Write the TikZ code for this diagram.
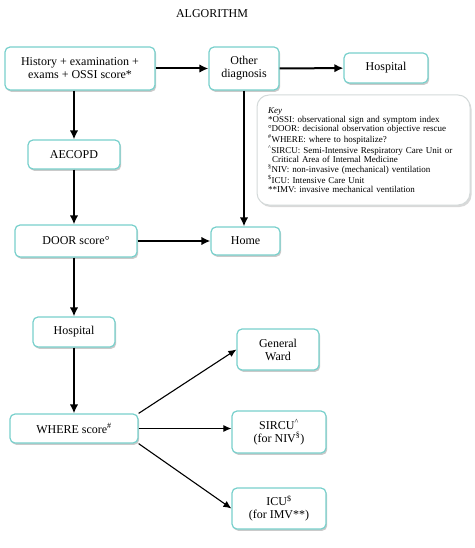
\documentclass[tikz,border=0pt]{standalone}
\usepackage{fontspec}
\setmainfont{Liberation Serif}
\usetikzlibrary{arrows.meta,shadows}

\definecolor{boxline}{RGB}{120,208,204}
\definecolor{keyline}{RGB}{212,218,218}

\tikzset{
    box/.style={draw=boxline, line width=1.2pt, fill=white, rounded corners=5pt,
        align=center, inner sep=2pt, font=\fontsize{12}{13}\selectfont,
        drop shadow={shadow xshift=1.2pt, shadow yshift=-1.8pt, opacity=0.35, fill=black!60}},
    keybox/.style={draw=keyline, line width=1pt, fill=white, rounded corners=12pt,
        align=left, inner xsep=11pt, font=\fontsize{9}{9.4}\selectfont,
        drop shadow={shadow xshift=1.5pt, shadow yshift=-2pt, opacity=0.3, fill=black!50}},
    flow/.style={line width=2pt, -{Latex[length=9pt,width=8.5pt]}},
    branch/.style={line width=1.1pt, -{Latex[length=8pt,width=7pt]}}
}

\begin{document}
\begin{tikzpicture}[x=1pt,y=-1pt]

    % Page frame
    \useasboundingbox (0,0) rectangle (474,548);

    % Title
    \node[font=\fontsize{12}{14}\selectfont] (title) at (212,14) {ALGORITHM};

    % Boxes
    \node[box, minimum width=150pt, minimum height=43pt] (history) at (80,68.5) {History + examination +\\exams + OSSI score*};
    \node[box, minimum width=70pt, minimum height=43pt] (other) at (244,68.5) {Other\\diagnosis};
    \node[box, minimum width=84pt, minimum height=30pt] (hosptop) at (386,68) {Hospital};
    \node[box, minimum width=92pt, minimum height=29pt] (aecopd) at (74,154.5) {AECOPD};
    \node[box, minimum width=122pt, minimum height=32pt] (door) at (76,241) {DOOR score°};
    \node[box, minimum width=69pt, minimum height=28pt] (home) at (245.5,241) {Home};
    \node[box, minimum width=82pt, minimum height=30pt] (hospmid) at (74,332) {Hospital};
    \node[box, minimum width=82pt, minimum height=41pt] (ward) at (278,349.5) {General\\Ward};
    \node[box, minimum width=128pt, minimum height=29pt] (where) at (74,428.5) {WHERE score\textsuperscript{\#}};
    \node[box, minimum width=94pt, minimum height=42pt] (sircu) at (279,432) {SIRCU\textsuperscript{\textasciicircum}\\(for NIV\textsuperscript{§})};
    \node[box, minimum width=94pt, minimum height=41pt] (icu) at (279,508.5) {ICU\textsuperscript{\$}\\(for IMV**)};

    % Key
    \node[keybox, minimum width=213pt, minimum height=110pt, text width=191pt] (key) at (363.5,150) {%
        \textit{Key}\\
        {}*OSSI: observational sign and symptom index\\
        °DOOR: decisional observation objective rescue\\
        \textsuperscript{\#}WHERE: where to hospitalize?\\
        \textsuperscript{\textasciicircum}SIRCU: Semi-Intensive Respiratory Care Unit or\\
        \hspace*{4pt}Critical Area of Internal Medicine\\
        \textsuperscript{§}NIV: non-invasive (mechanical) ventilation\\
        \textsuperscript{\$}ICU: Intensive Care Unit\\
        {}**IMV: invasive mechanical ventilation};

    % Main flow
    \draw[flow] (history) -- (other);
    \draw[flow] (other) -- (hosptop);
    \draw[flow] (history.south -| aecopd.north) -- (aecopd.north);
    \draw[flow] (aecopd.south) -- (aecopd.south |- door.north);
    \draw[flow] (door) -- (home);
    \draw[flow] (other.south) -- (other.south |- home.north);
    \draw[flow] (door.south -| hospmid.north) -- (hospmid.north);
    \draw[flow] (hospmid) -- (where);

    % Where to go
    \draw[branch] (where.north east) -- (ward.west);
    \draw[branch] (where.east) -- (where.east -| sircu.west);
    \draw[branch] (where.south east) -- (icu.west);

\end{tikzpicture}
\end{document}
